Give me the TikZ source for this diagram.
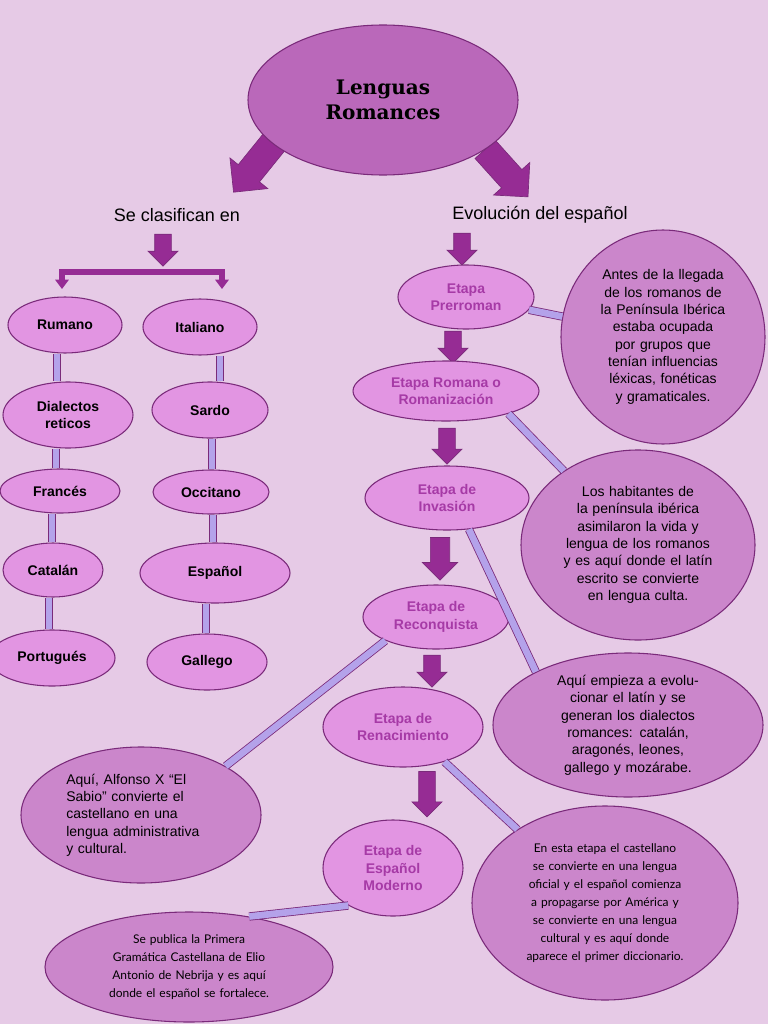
\documentclass[tikz,border=0pt]{standalone}
\usepackage{fontspec}
\setmainfont{Liberation Sans}
\newfontfamily\titlefont{DejaVu Serif}
\newfontfamily\smallfont{Lato}
\usetikzlibrary{shapes.geometric,shapes.arrows,arrows.meta}
\definecolor{bg}{HTML}{E6CAE6}
\definecolor{titlefill}{HTML}{BA68BA}
\definecolor{lightfill}{HTML}{E295E2}
\definecolor{textfill}{HTML}{CB86CB}
\definecolor{edge}{HTML}{7A2A7A}
\definecolor{lav}{HTML}{B4A2EA}
\definecolor{arrowc}{HTML}{962C94}
\definecolor{stagec}{HTML}{A63AA6}
\tikzset{
  sz/.style 2 args={minimum width=#1*0.75pt, minimum height=#2*0.75pt},
  oval/.style={ellipse, draw=edge, line width=0.8pt, inner sep=0pt, align=center},
  lang/.style={oval, fill=lightfill, font=\bfseries\fontsize{10.5}{13}\selectfont},
  stage/.style={oval, fill=lightfill, text=stagec, font=\bfseries\fontsize{10.5}{13}\selectfont},
  info/.style={oval, fill=textfill, font=\fontsize{10.5}{13}\selectfont},
  infosm/.style={oval, fill=textfill, font=\smallfont\fontsize{9}{13.5}\selectfont},
  link/.style={draw=edge, line width=0.6pt, double=lav, double distance=5pt},
  blk/.style={single arrow, fill=arrowc, draw=edge, line width=0.5pt, inner xsep=0pt,
    inner ysep=6pt, single arrow head extend=5pt, minimum height=24pt},
  bigblk/.style={blk, inner ysep=10pt, single arrow head extend=8pt, minimum height=48pt}
}
\begin{document}
\begin{tikzpicture}[x=0.75pt,y=-0.75pt]
\useasboundingbox[fill=bg] (0,0) rectangle (768,1024);

% title
\node[bigblk, rotate=-129] (al) at (258,162) {};
\node[bigblk, rotate=-48] (ar) at (502,168) {};
\node[oval, fill=titlefill, sz={270}{150},
  font=\titlefont\bfseries\fontsize{15}{19}\selectfont] (title) at (383,100) {Lenguas\\Romances};

\node[font=\fontsize{13.5}{16}\selectfont] (clas) at (177,215) {Se clasifican en};
\node[font=\fontsize{13.5}{16}\selectfont] (evol) at (540,215) {Evolución del español};

% left branch
\node[blk, rotate=-90] (d1) at (163,246) {};
\coordinate (bl) at (62,289);
\coordinate (br) at (222,289);
\draw[arrowc, line width=4pt, {Triangle[width=10pt,length=7pt]}-{Triangle[width=10pt,length=7pt]}] (bl) |- (222,272) -- (br);

\node[lang, sz={114}{56}] (rum) at (65,325) {Rumano};
\node[lang, sz={114}{56}] (ita) at (200,327) {Italiano};
\node[lang, sz={130}{66}] (dia) at (68,415) {Dialectos\\reticos};
\node[lang, sz={116}{56}] (sar) at (210,410) {Sardo};
\node[lang, sz={120}{44}] (fra) at (60,491) {Francés};
\node[lang, sz={116}{44}] (occ) at (211,492) {Occitano};
\node[lang, sz={100}{54}] (cat) at (53,570) {Catalán};
\node[lang, sz={150}{60}] (esp) at (215,573) {Español};
\node[lang, sz={126}{56}] (por) at (52,658) {Portugués};
\node[lang, sz={120}{56}] (gal) at (207,662) {Gallego};

\draw[link] (rum.south) ++(-8,0) coordinate (r1) -- (r1 |- dia.north);
\draw[link] (dia.south) ++(-12,0) coordinate (r2) -- (r2 |- fra.north);
\draw[link] (fra.south) ++(-8,0) coordinate (r3) -- (r3 |- cat.north);
\draw[link] (cat.south) ++(-4,0) coordinate (r4) -- (r4 |- por.north);
\draw[link] (ita.south) ++(20,0) coordinate (s1) -- (s1 |- sar.north);
\draw[link] (sar.south) ++(2,0) coordinate (s2) -- (s2 |- occ.north);
\draw[link] (occ.south) ++(2,0) coordinate (s3) -- (s3 |- esp.north);
\draw[link] (esp.south) ++(-9,0) coordinate (s4) -- (s4 |- gal.north);

% right branch
\node[blk, rotate=-90] (d2) at (462,245) {};
\node[stage, sz={136}{64}] (pre) at (466,297) {Etapa\\Prerroman};
\node[info, sz={204}{214}, text width=100pt] (antes) at (663,337)
  {Antes de la llegada de los romanos de la Península Ibérica estaba ocupada por grupos que tenían influencias léxicas, fonéticas y gramaticales.};
\node[blk, rotate=-90] (d3) at (453,343) {};
\node[stage, sz={186}{60}] (rom) at (446,391) {Etapa Romana o\\Romanización};
\node[blk, rotate=-90, minimum height=27pt] (d4) at (447,442) {};
\node[stage, sz={164}{64}] (inv) at (447,498) {Etapa de\\Invasión};
\node[info, sz={234}{190}, text width=115pt] (hab) at (638,545)
  {Los habitantes de la península ibérica asimilaron la vida y lengua de los romanos y es aquí donde el latín escrito se convierte en lengua culta.};
\node[blk, rotate=-90, minimum height=32pt, inner ysep=7pt, single arrow head extend=6pt] (d5) at (440,554) {};
\node[stage, sz={146}{64}] (rec) at (436,617) {Etapa de\\Reconquista};
\node[info, sz={270}{144}, text width=128pt] (emp) at (628,725)
  {Aquí empieza a evolucionar el latín y se generan los dialectos romances: catalán, aragonés, leones, gallego y mozárabe.};
\node[blk, rotate=-90] (d6) at (432,667) {};
\node[stage, sz={160}{80}] (ren) at (403,727) {Etapa de\\Renacimiento};
\node[info, sz={240}{136}, text width=112pt, align=left] (alf) at (141,815)
  {Aquí, Alfonso X “El Sabio” convierte el castellano en una lengua administrativa y cultural.};
\node[blk, rotate=-90, minimum height=34pt] (d7) at (427,790) {};
\node[stage, sz={140}{96}] (mod) at (393,868) {Etapa de\\Español\\Moderno};
\node[infosm, sz={266}{194}, text width=128pt] (est) at (605,903)
  {En esta etapa el castellano se convierte en una lengua oficial y el español comienza a propagarse por América y se convierte en una lengua cultural y es aquí donde aparece el primer diccionario.};
\node[infosm, sz={288}{110}, text width=125pt] (pub) at (189,967)
  {Se publica la Primera Gramática Castellana de Elio Antonio de Nebrija y es aquí donde el español se fortalece.};

\draw[link] (pre) -- (antes);
\draw[link] (rom.-20) -- (hab.135);
\draw[link] (inv.-55) -- (emp.150);
\draw[link] (rec.-155) -- (alf.30);
\draw[link] (ren.-40) -- (est.140);
\draw[link] (mod.-140) -- (pub.40);
\end{tikzpicture}
\end{document}
